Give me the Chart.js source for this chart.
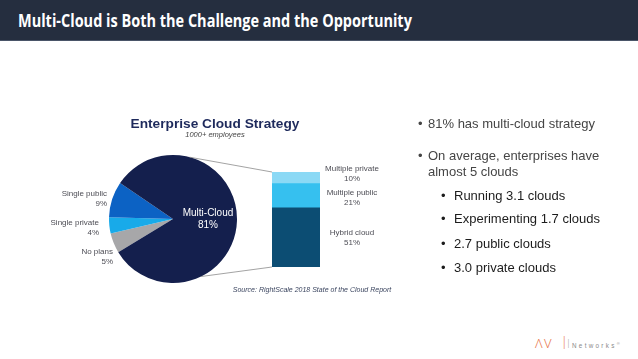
<!DOCTYPE html>
<html lang="en">
<head>
<meta charset="UTF-8" />
<title>Multi-Cloud is Both the Challenge and the Opportunity</title>
<script src="https://cdn.jsdelivr.net/npm/chart.js@4.4.2/dist/chart.umd.min.js"></script>
<style>
  html, body { margin: 0; padding: 0; }
  body {
    width: 638px; height: 359px; position: relative; overflow: hidden;
    background: #ffffff;
    font-family: "Liberation Sans", Arial, sans-serif;
  }
  .header {
    position: absolute; left: 0; top: 0; width: 638px; height: 40px;
    background: #252e3f; border-bottom: 1px solid #4a5568;
  }
  .header h1 {
    position: absolute; left: 18px; top: 7px; margin: 0;
    font-family: "Open Sans", "Noto Sans", sans-serif; font-weight: 700;
    font-size: 18px; line-height: 26px; color: #ffffff; white-space: nowrap;
    transform-origin: left center; transform: scaleX(0.805);
  }
  .t { position: absolute; white-space: nowrap; }
  .c { text-align: center; }
  .r { text-align: right; }
  #pieCanvas { position: absolute; left: 103px; top: 149px; }
  #barCanvas { position: absolute; left: 100px; top: 140px; }
  .lbl { font-size: 8px; line-height: 9.5px; color: #4d4d55; }
  .bul { font-size: 13px; line-height: 15px; color: #454545; }
  .sub { font-size: 13px; line-height: 15px; color: #1c1c1c; }
</style>
</head>
<body>
  <div class="header"><h1>Multi-Cloud is Both the Challenge and the Opportunity</h1></div>

  <canvas id="pieCanvas" width="140" height="140"></canvas>
  <canvas id="barCanvas" width="240" height="160"></canvas>

  <div class="t c" style="left:115px;width:200px;top:116px;font-weight:700;font-size:13.7px;line-height:16px;color:#1e2a5c;">Enterprise Cloud Strategy</div>
  <div class="t c" style="left:115px;width:200px;top:130px;font-style:italic;font-size:7.5px;line-height:10px;color:#444;">1000+ employees</div>

  <div class="t r lbl" style="left:40px;width:67px;top:189px;">Single public<br>9%</div>
  <div class="t r lbl" style="left:30px;width:69px;top:218px;">Single private<br>4%</div>
  <div class="t r lbl" style="left:40px;width:73px;top:247px;">No plans<br>5%</div>

  <div class="t c" style="left:158px;width:100px;top:207px;font-size:10px;line-height:12px;color:#ffffff;">Multi-Cloud<br>81%</div>

  <div class="t c lbl" style="left:312px;width:80px;top:164px;">Multiple private<br>10%</div>
  <div class="t c lbl" style="left:312px;width:80px;top:188px;">Multiple public<br>21%</div>
  <div class="t c lbl" style="left:312px;width:80px;top:228px;">Hybrid cloud<br>51%</div>

  <div class="t c" style="left:212px;width:200px;top:285px;font-style:italic;font-size:7px;line-height:10px;color:#3c4660;">Source: RightScale 2018 State of the Cloud Report</div>

  <div class="t bul" style="left:418px;top:116px;">&bull;</div>
  <div class="t bul" style="left:428px;top:116px;">81% has multi-cloud strategy</div>
  <div class="t bul" style="left:418px;top:148px;">&bull;</div>
  <div class="t bul" style="left:428px;top:148px;">On average, enterprises have</div>
  <div class="t bul" style="left:428px;top:164px;">almost 5 clouds</div>

  <div class="t sub" style="left:441px;top:188px;">&bull;</div>
  <div class="t sub" style="left:454px;top:188px;">Running 3.1 clouds</div>
  <div class="t sub" style="left:441px;top:211px;">&bull;</div>
  <div class="t sub" style="left:454px;top:211px;">Experimenting 1.7 clouds</div>
  <div class="t sub" style="left:441px;top:236px;">&bull;</div>
  <div class="t sub" style="left:454px;top:236px;">2.7 public clouds</div>
  <div class="t sub" style="left:441px;top:260px;">&bull;</div>
  <div class="t sub" style="left:454px;top:260px;">3.0 private clouds</div>

  <div class="t" style="left:535px;top:335px;font-family:'Noto Sans',sans-serif;font-weight:300;font-size:13px;line-height:16px;color:#e8784e;letter-spacing:1.5px;">&Lambda;V</div>
  <div class="t" style="left:561px;top:334px;font-family:'Noto Sans',sans-serif;font-weight:300;font-size:12px;line-height:16px;color:#e8784e;">|</div>
  <div class="t" style="left:566px;top:337px;font-family:'Noto Sans',sans-serif;font-weight:300;font-size:9px;line-height:12px;color:#9a9a9a;">|</div>
  <div class="t" style="left:572px;top:339px;font-size:6.3px;line-height:10px;color:#8a8a8a;letter-spacing:2.3px;">Networks<sup style="font-size:4px;">&reg;</sup></div>

<script>
  // pie: share of enterprises by cloud strategy (%)
  const pieLabels = ["No plans", "Single private", "Single public", "Multi-Cloud"];
  const pieValues = [5, 4, 9, 81];
  const pieColors = ["#a7a7a9", "#18aae9", "#0c62c4", "#141f4d"];

  // breakdown of the multi-cloud slice (%), bottom to top
  const barLabels = ["Hybrid cloud", "Multiple public", "Multiple private"];
  const barValues = [51, 21, 10];
  const barColors = ["#0c4d73", "#36c0ef", "#8bd9f5"];

  const pieChart = new Chart(document.getElementById("pieCanvas"), {
    type: "pie",
    data: {
      labels: pieLabels,
      datasets: [{
        data: pieValues,
        backgroundColor: pieColors,
        borderWidth: 0,
        hoverOffset: 0,
      }],
    },
    options: {
      responsive: false,
      animation: false,
      rotation: 238.8,
      radius: 64,
      layout: { padding: 0 },
      events: [],
      plugins: { legend: { display: false }, tooltip: { enabled: false } },
    },
  });

  // lines from the pie edge to the corners of the stacked bar
  const connectors = {
    id: "connectors",
    afterDatasetsDraw(chart) {
      const arc = pieChart.getDatasetMeta(0).data[0];
      const pieBox = pieChart.canvas.getBoundingClientRect();
      const barBox = chart.canvas.getBoundingClientRect();
      const cx = arc.x + pieBox.left - barBox.left;
      const cy = arc.y + pieBox.top - barBox.top;
      const r = arc.outerRadius;

      const topBar = chart.getDatasetMeta(barValues.length - 1).data[0];
      const bottomBar = chart.getDatasetMeta(0).data[0];
      const left = topBar.x - topBar.width / 2;

      const a1 = -75 * Math.PI / 180;
      const a2 = 64 * Math.PI / 180;
      const { ctx } = chart;
      ctx.save();
      ctx.strokeStyle = "#8c8c8c";
      ctx.lineWidth = 0.8;
      ctx.beginPath();
      ctx.moveTo(cx + r * Math.cos(a1), cy + r * Math.sin(a1));
      ctx.lineTo(left, topBar.y);
      ctx.moveTo(cx + r * Math.cos(a2), cy + r * Math.sin(a2));
      ctx.lineTo(left, bottomBar.base);
      ctx.stroke();
      ctx.restore();
    },
  };

  new Chart(document.getElementById("barCanvas"), {
    type: "bar",
    data: {
      labels: ["Multi-Cloud"],
      datasets: barLabels.map((label, i) => ({
        label,
        data: [barValues[i]],
        backgroundColor: barColors[i],
        borderWidth: 0,
        barPercentage: 1,
        categoryPercentage: 1,
      })),
    },
    options: {
      responsive: false,
      animation: false,
      events: [],
      layout: { padding: { left: 172, right: 20, top: 32, bottom: 33 } },
      scales: {
        x: { stacked: true, display: false },
        y: { stacked: true, display: false, min: 0, max: barValues.reduce((s, v) => s + v, 0) },
      },
      plugins: { legend: { display: false }, tooltip: { enabled: false } },
    },
    plugins: [connectors],
  });
</script>
</body>
</html>
